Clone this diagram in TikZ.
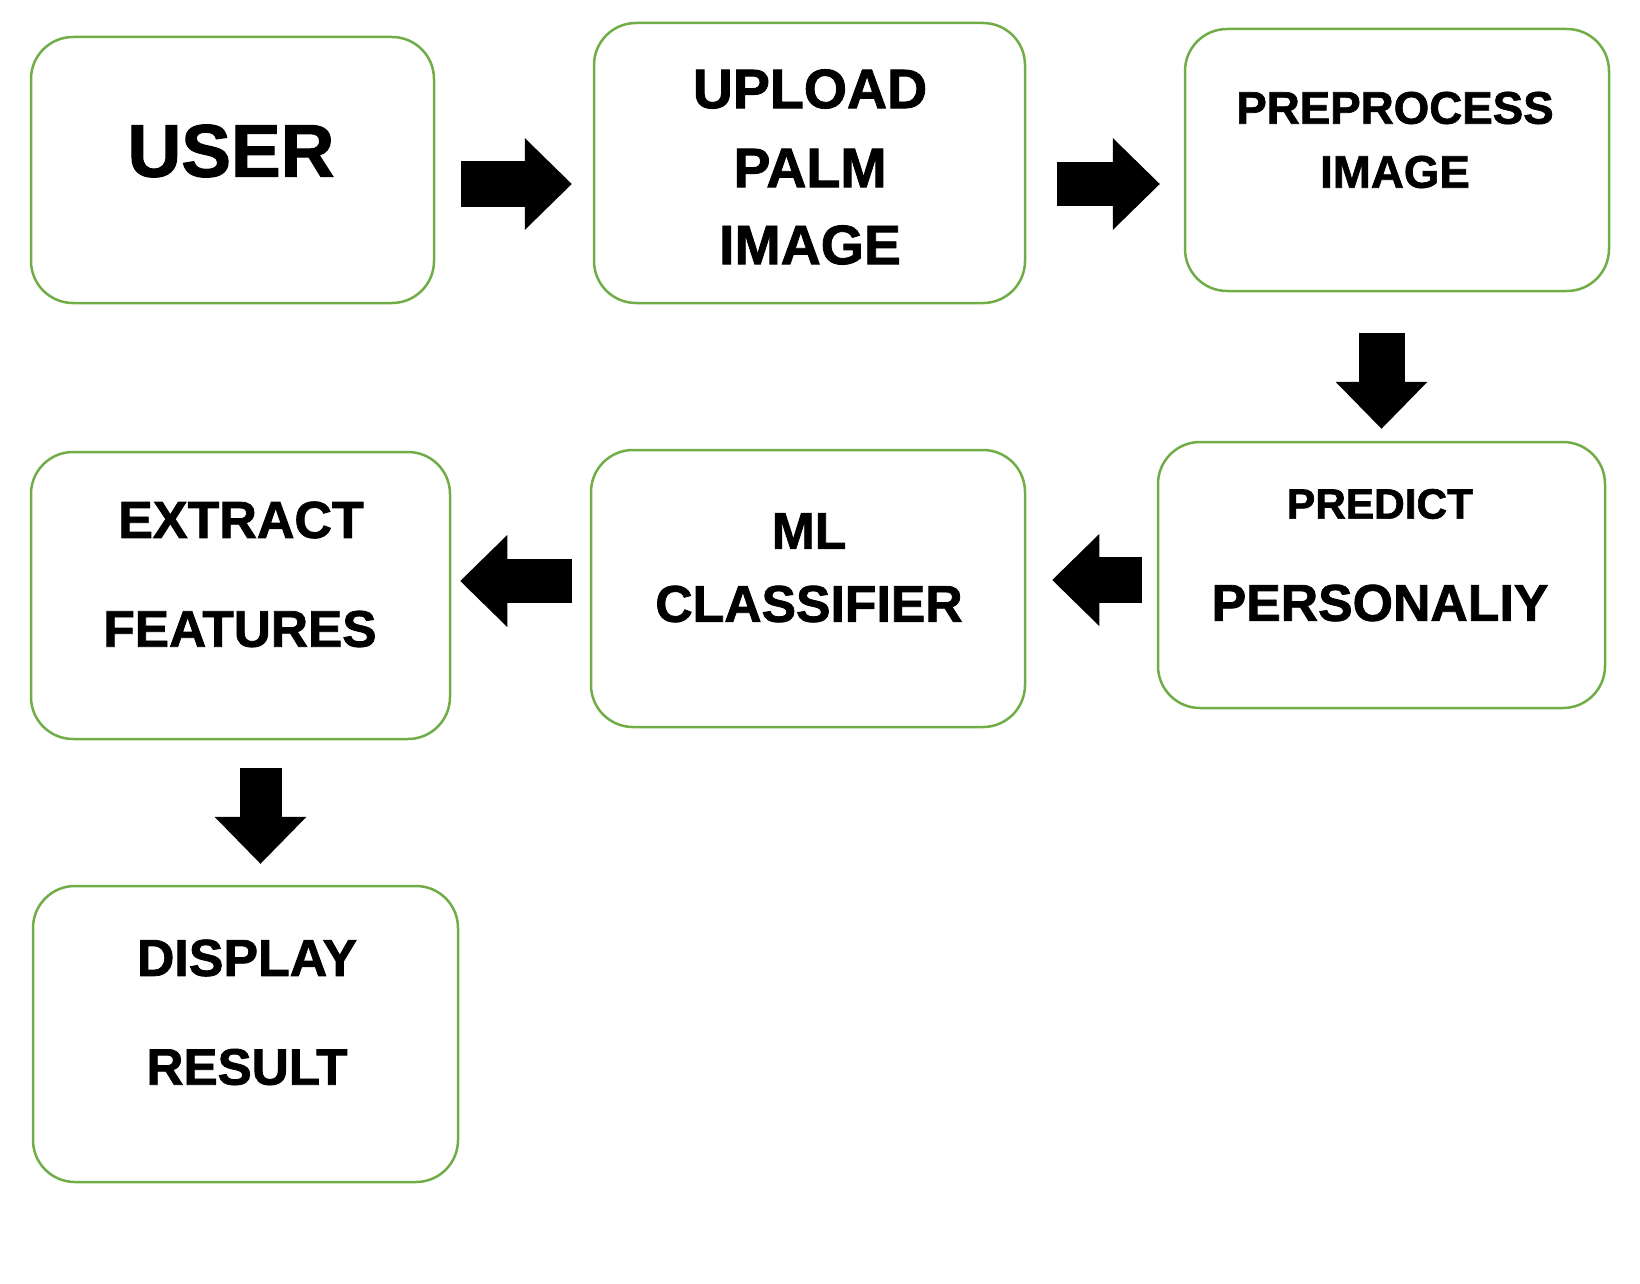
\documentclass[tikz,border=0pt]{standalone}
\usepackage{fontspec}
\setmainfont{Liberation Sans}[BoldFeatures = {FakeBold = 1.5}]
\usetikzlibrary{arrows.meta}
\definecolor{boxgreen}{HTML}{70AD47}
\tikzstyle{stepbox} = [rectangle, rounded corners = 42pt, draw = boxgreen,
	line width = 2.5pt, inner sep = 0pt]
\tikzstyle{fatarrow} = [line width = 46pt,
	-{Triangle[length = 47pt, width = 92pt, line width = 0pt]}]
\tikzset{boxtext/.style = {inner sep = 0pt, font = \bfseries\fontsize{#1}{#1}\selectfont}}

\begin{document}
\begin{tikzpicture}[x = 1pt, y = -1pt]
\useasboundingbox (0,0) rectangle (1640,1284);

\node (user) [stepbox, minimum width = 403pt, minimum height = 266pt] at (232.5,170) {};
\node (upload) [stepbox, minimum width = 431pt, minimum height = 280pt] at (809.5,163) {};
\node (prep) [stepbox, minimum width = 424pt, minimum height = 262pt] at (1397,160) {};
\node (predict) [stepbox, minimum width = 447pt, minimum height = 266pt] at (1381.5,575) {};
\node (ml) [stepbox, minimum width = 434pt, minimum height = 277pt] at (808,588.5) {};
\node (extract) [stepbox, minimum width = 419pt, minimum height = 287pt] at (240.5,595.5) {};
\node (display) [stepbox, minimum width = 425pt, minimum height = 296pt] at (245.5,1034) {};

\node (userA) [boxtext = 74.5pt] at (231,151) {USER};

\node (uploadA) [boxtext = 55.5pt] at (810,89) {UPLOAD};
\node (uploadB) [boxtext = 55.5pt] at (810,168) {PALM};
\node (uploadC) [boxtext = 55.5pt] at (810,245) {IMAGE};

\node (prepA) [boxtext = 45.7pt] at (1395,108) {PREPROCESS};
\node (prepB) [boxtext = 45.7pt] at (1395,172) {IMAGE};

\node (predictA) [boxtext = 42.4pt] at (1380,504) {PREDICT};
\node (predictB) [boxtext = 51.8pt] at (1380,603) {PERSONALIY};

\node (mlA) [boxtext = 51.7pt] at (809,531) {ML};
\node (mlB) [boxtext = 51.7pt] at (809,604) {CLASSIFIER};

\node (extractA) [boxtext = 52pt] at (241,520) {EXTRACT};
\node (extractB) [boxtext = 51.4pt] at (240,629) {FEATURES};

\node (displayA) [boxtext = 51.9pt] at (247,958) {DISPLAY};
\node (displayB) [boxtext = 51.2pt] at (247,1067) {RESULT};

\draw [fatarrow, shorten <= 26pt, shorten >= 21pt]
	([yshift = -14pt]user.east) -- ([yshift = -14pt]user.east -| upload.west);
\draw [fatarrow, line width = 43pt, shorten <= 31pt, shorten >= 24pt]
	([yshift = -21pt]upload.east) -- ([yshift = -21pt]upload.east -| prep.west);
\draw [fatarrow, shorten <= 41pt, shorten >= 12pt]
	(prep.south -| predict.north) -- (predict.north);
\draw [fatarrow, shorten <= 15pt, shorten >= 26pt]
	([yshift = -5pt]predict.west) -- ([yshift = -5pt]predict.west -| ml.east);
\draw [fatarrow, line width = 44pt, shorten <= 18pt, shorten >= 9pt]
	([yshift = 7.5pt]ml.west) -- ([yshift = 7.5pt]ml.west -| extract.east);
\draw [fatarrow, line width = 42pt, shorten <= 28pt, shorten >= 21pt]
	([xshift = 20pt]extract.south) -- ([xshift = 20pt]extract.south |- display.north);
\end{tikzpicture}
\end{document}
